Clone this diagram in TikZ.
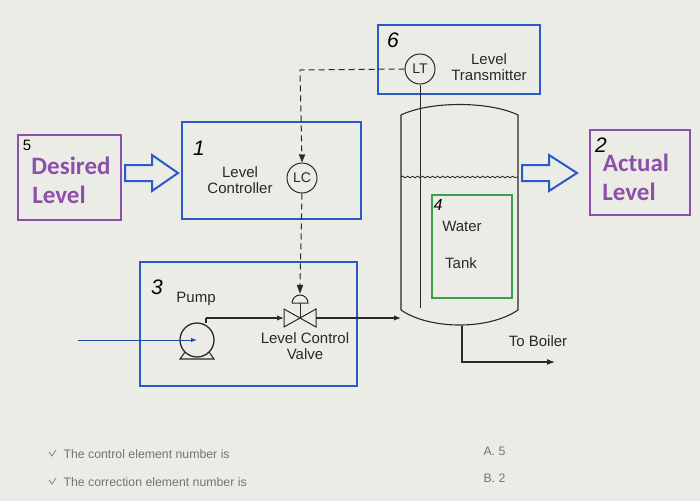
\documentclass[tikz,border=0pt]{standalone}
\usepackage{fontspec}
\setmainfont{Liberation Sans}
\newfontfamily\calib{Carlito}
\usetikzlibrary{arrows.meta,decorations.pathmorphing}
\definecolor{bg}{RGB}{236,236,231}
\definecolor{bl}{RGB}{40,90,200}
\definecolor{pu}{RGB}{140,80,170}
\definecolor{gr}{RGB}{60,160,70}
\definecolor{tx}{RGB}{40,40,40}
\begin{document}
\begin{tikzpicture}[x=1pt,y=-1pt,
  bbox/.style={draw=bl,line width=2pt},
  pbox/.style={draw=pu,line width=2pt},
  lab/.style={font=\fontsize{15}{16}\selectfont,text=tx,align=center},
  big/.style={font=\calib\bfseries\fontsize{25}{27}\selectfont,text=pu},
  num/.style={font=\itshape\fontsize{21}{21}\selectfont,text=black},
  inst/.style={draw=tx,line width=1pt,circle,minimum size=30pt,inner sep=0pt,font=\fontsize{14}{15}\selectfont,text=tx},
  pipe/.style={draw=tx,line width=1.1pt},
  sig/.style={draw=tx,line width=1pt,dash pattern=on 6pt off 4pt},
  hollow/.style={draw=bl,line width=2pt,fill=bg},
  foot/.style={font=\fontsize{12.3}{14}\selectfont,text=gray!90!black,anchor=west}]
\useasboundingbox[fill=bg] (0,0) rectangle (700,501);
% boxes
\draw[pbox] (18,135) rectangle (121,220);
\node[num,font=\fontsize{15}{15}\selectfont] (n5) at (27,145) {5};
\node[big] (dl1) at (71,166) {Desired};
\node[big] (dl2) at (59,195) {Level};
\draw[bbox] (182,122) rectangle (361,219);
\node[num] (n1) at (199,148) {1};
\node[lab] (lcl) at (240,180) {Level\\Controller};
\node[inst] (lc) at (302,178) {LC};
\draw[bbox] (378,25) rectangle (540,94);
\node[num] (n6) at (393,40) {6};
\node[inst] (lt) at (420,69) {LT};
\node[lab] (ltl) at (489,67) {Level\\Transmitter};
\draw[pbox] (590,130) rectangle (690,215);
\node[num] (n2) at (601,145) {2};
\node[big] (al1) at (636,163) {Actual};
\node[big] (al2) at (629,192) {Level};
\draw[bbox] (140,262) rectangle (357,386);
\node[num] (n3) at (157,287) {3};
\node[lab] (pl) at (196,299) {Pump};
% hollow arrows
\draw[hollow] (125,165)--(152,165)--(152,155)--(178,173)--(152,191)--(152,181)--(125,181)--cycle;
\draw[hollow] (522,165)--(549,165)--(549,155)--(577,173)--(549,191)--(549,181)--(522,181)--cycle;
% tank
\draw[pipe] (401,310)--(401,115) .. controls (430,101) and (489,101) .. (518,115) -- (518,310) .. controls (489,330) and (430,330) .. (401,310);
\draw[tx,line width=0.8pt,decorate,decoration={snake,amplitude=0.8pt,segment length=5pt}] (401,177)--(518,177);
\draw[draw=gr,line width=2pt] (432,195) rectangle (512,298);
\node[num,font=\itshape\fontsize{16}{16}\selectfont] (n4) at (438,205) {4};
\node[lab] (wt1) at (462,226) {Water};
\node[lab] (wt2) at (461,263) {Tank};
\draw[tx,line width=0.8pt] (lt.south)--(420,308);
% signals
\coordinate (c1) at (300,70);
\draw[sig] (lt.west)--(c1)--(lc.north);
\draw[tx,fill=tx] (lc.north)++(0,-1)--++(-3,-7)--++(6,0)--cycle;
% valve
\coordinate (vc) at (300,318);
\draw[tx,line width=1pt] (284,309)--(316,327)--(316,309)--(284,327)--cycle;
\draw[tx,line width=1pt] (vc)--(300,303);
\draw[tx,line width=1pt] (292,303)--(308,303) arc (0:-180:8);
\draw[sig] (lc.south)--(300,286);
\draw[tx,fill=tx] (300,293)--(297,285)--(303,285)--cycle;
% pump
\node[draw=tx,line width=1.3pt,circle,minimum size=34pt,inner sep=0pt] (pump) at (197,340) {};
\draw[tx,line width=1.1pt] (185,352)--(180,359)--(214,359)--(209,352);
\draw[pipe,-{Latex[length=7pt]}] (206,318)--(284,318);
\draw[pipe] (206,323)--(206,318);
\draw[draw=bl!80!black,line width=1pt,-{Latex[length=6pt]}] (78,340)--(pump.center);
\draw[pipe,-{Latex[length=7pt]}] (316,318)--(401,318);
\node[lab] (vl) at (305,346) {Level Control\\Valve};
% outlet
\coordinate (o1) at (462,362);
\draw[pipe,-{Latex[length=8pt]}] (462,326)--(o1)--(555,362);
\node[lab] (tb) at (538,341) {To Boiler};
% footer
\node[foot] (q1) at (60,454) {The control element number is};
\node[foot] (q2) at (60,482) {The correction element number is};
\node[foot] (a1) at (480,451) {A. 5};
\node[foot] (a2) at (480,478) {B. 2};
\draw[gray,line width=0.8pt] (49,452)--(52,456)--(56,450);
\draw[gray,line width=0.8pt] (49,480)--(52,484)--(56,478);
\end{tikzpicture}
\end{document}
